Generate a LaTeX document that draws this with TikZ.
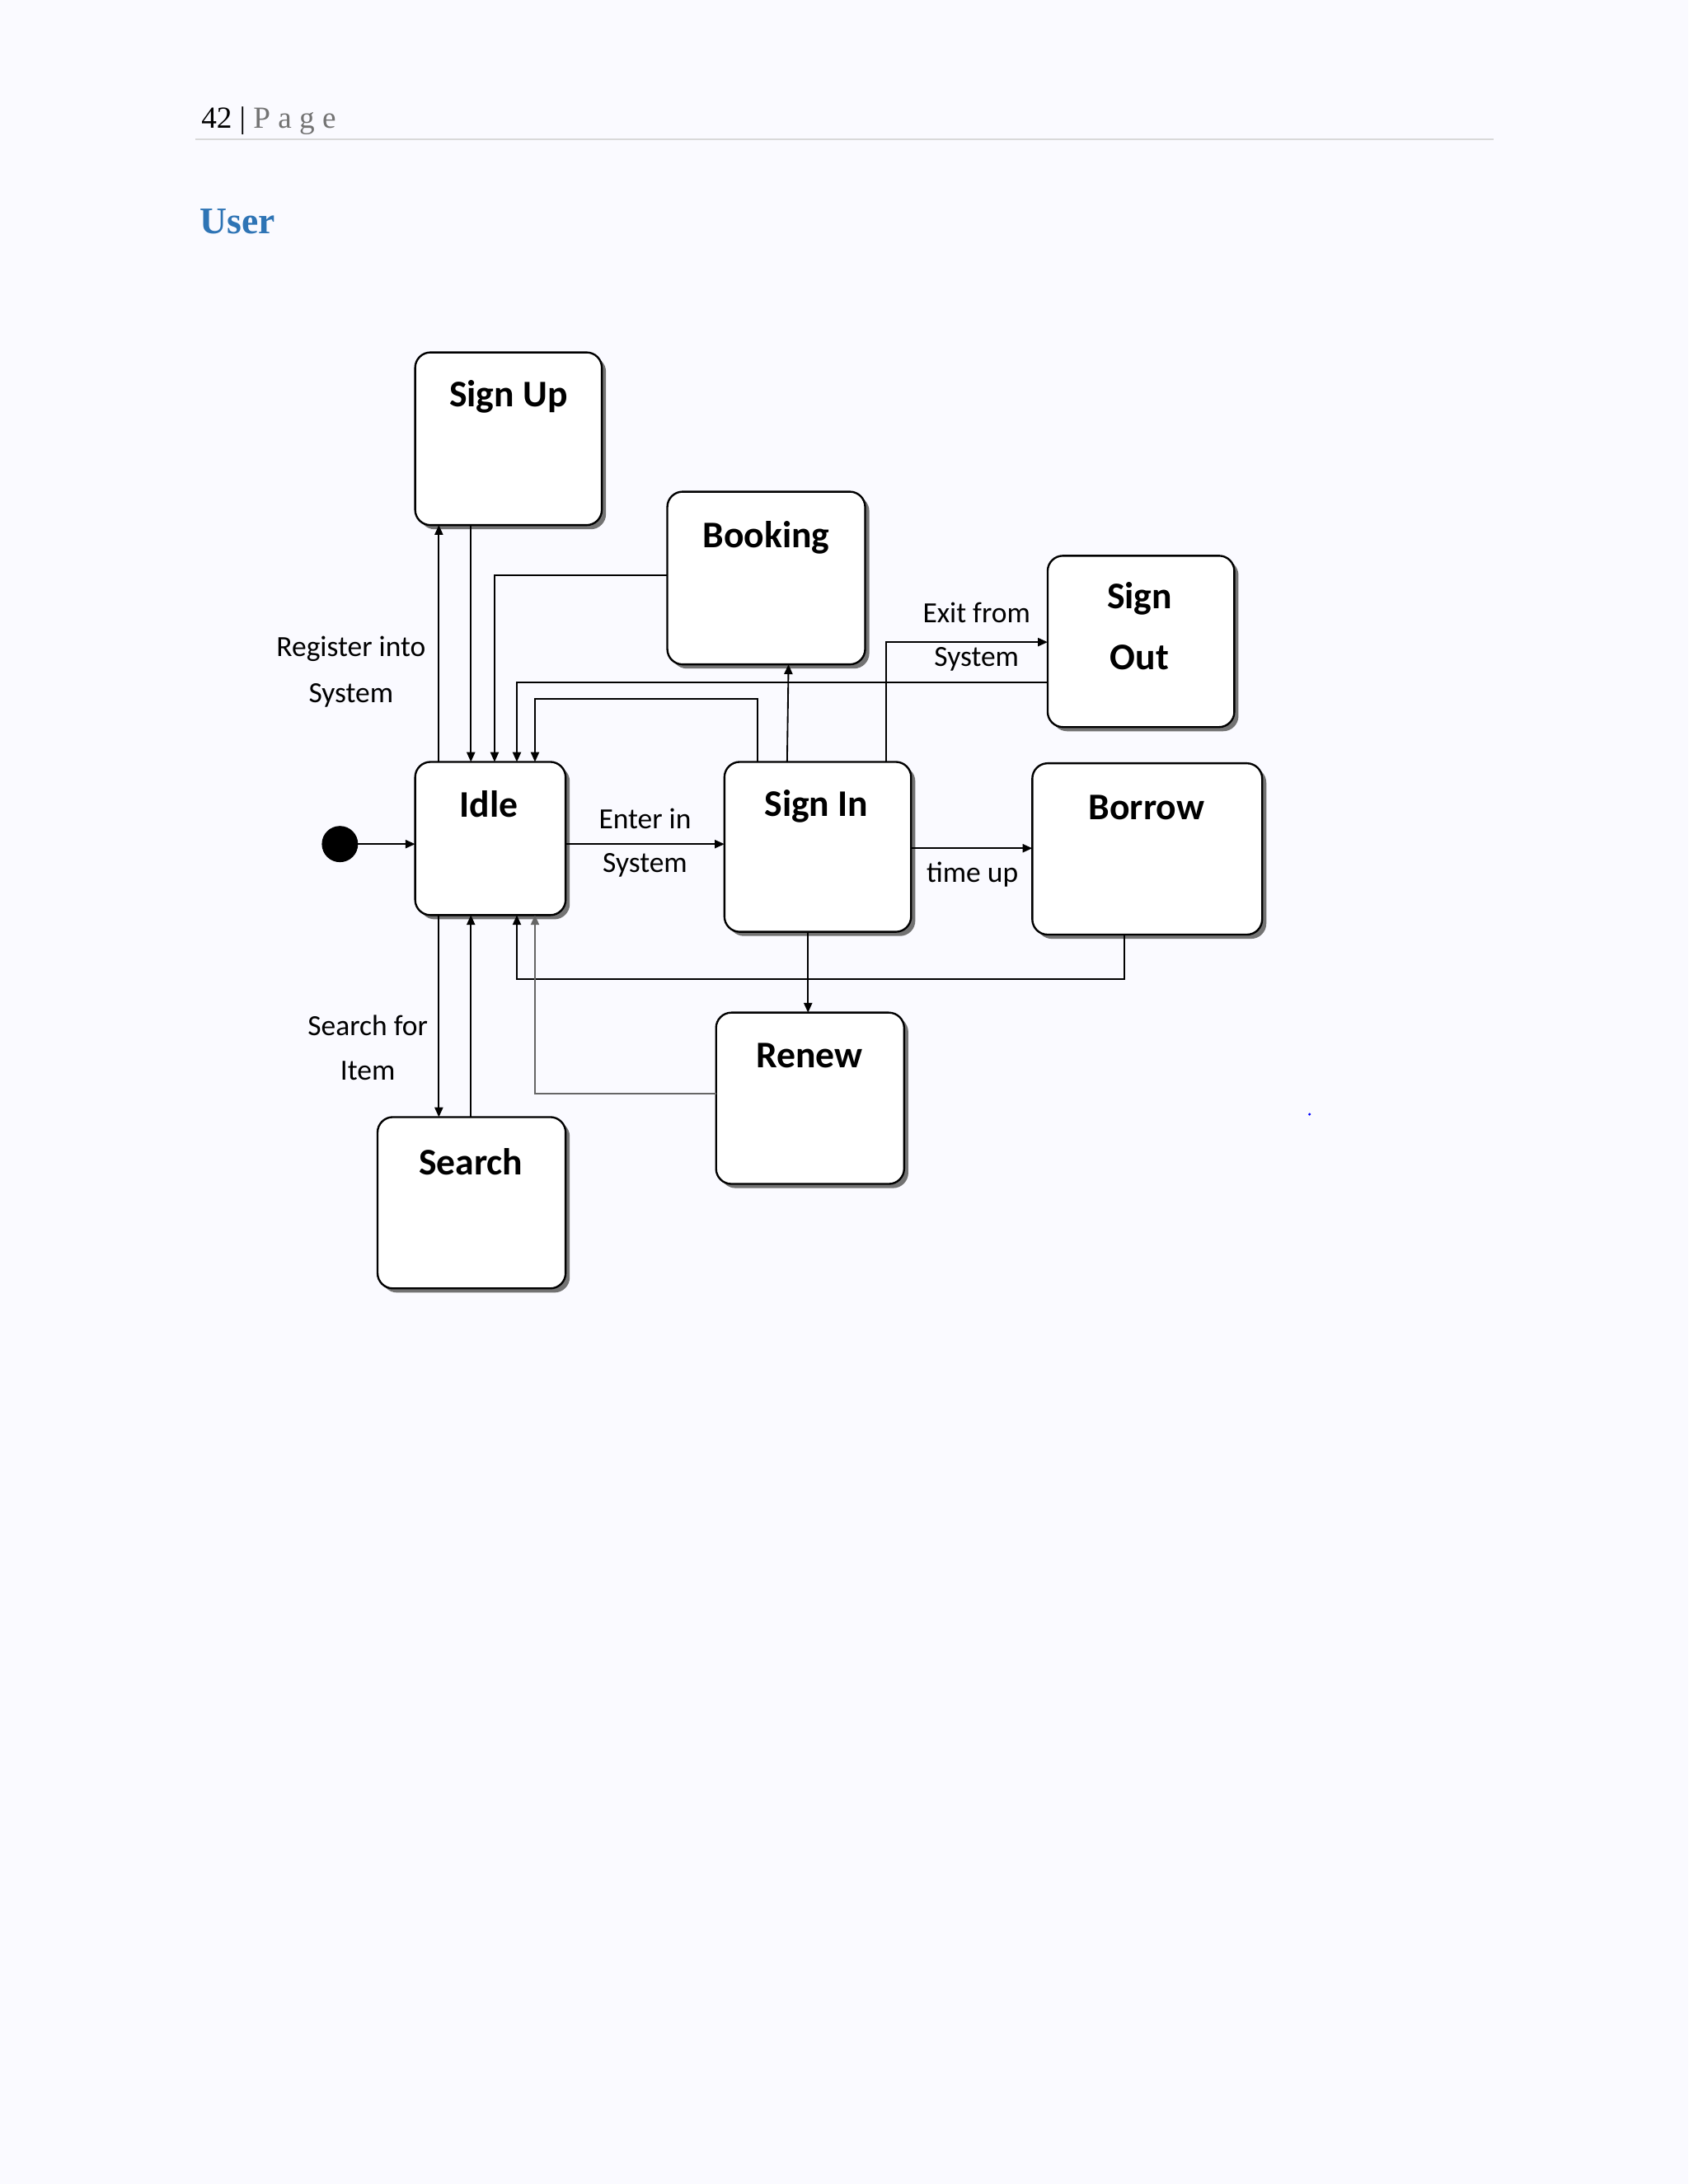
\documentclass[tikz,border=0pt]{standalone}
\usepackage{fontspec}
\setmainfont{Carlito}
\newfontfamily\serifx{Liberation Serif}
\usetikzlibrary{arrows.meta}
\begin{document}
\begin{tikzpicture}[x=1pt,y=-1pt,
  st/.style={draw=black,line width=1.4pt,rounded corners=11pt,fill=white},
  shd/.style={fill=black!55,rounded corners=11pt},
  ttl/.style={font=\fontsize{27}{30}\selectfont\bfseries},
  lbl/.style={font=\fontsize{21}{24}\selectfont},
  ar/.style={line width=1.1pt,-{Triangle[length=7pt,width=6pt]}},
  ln/.style={line width=1.1pt}]
\useasboundingbox (0,0) rectangle (1212,1568);
\fill[white!98!blue] (0,0) rectangle (1212,1568);
\node[anchor=base west,font=\serifx\fontsize{22}{24}\selectfont] (hdr) at (141,92) {42 | \textcolor{black!55}{P a g e}};
\draw[black!15,line width=0.8pt] (140,100) -- (1072,100);
\node[anchor=base west,font=\serifx\fontsize{27}{30}\selectfont\bfseries,text={rgb,255:red,46;green,116;blue,181}] (usr) at (140,168) {User};
% boxes
\newcommand\bx[5]{%
 \fill[shd] (#2+3,#3+3) rectangle (#4+3,#5+3);
 \draw[st] (#2,#3) rectangle (#4,#5);
 \coordinate (#1-nw) at (#2,#3); \coordinate (#1-se) at (#4,#5);}
\bx{su}{298}{253}{432}{377}
\bx{bk}{479}{353}{621}{477}
\bx{so}{752}{399}{886}{522}
\bx{id}{298}{547}{406}{657}
\bx{si}{520}{547}{654}{669}
\bx{bo}{741}{548}{906}{671}
\bx{rn}{514}{727}{649}{850}
\bx{se}{271}{802}{406}{925}
\node[ttl] (tsu) at (365,285) {Sign Up};
\node[ttl] (tbk) at (550,386) {Booking};
\node[ttl] (tso1) at (818,430) {Sign};
\node[ttl] (tso2) at (818,472) {Out};
\node[ttl] (tid) at (351,577) {Idle};
\node[ttl] (tsi) at (586,579) {Sign In};
\node[ttl] (tbo) at (823,580) {Borrow};
\node[ttl] (trn) at (581,758) {Renew};
\node[ttl] (tse) at (338,834) {Search};
% initial
\fill (244,606) circle (13);
\coordinate (init) at (257,606);
\draw[ar] (init) -- (298,606);
% connectors
\draw[ar] (315,547) -- (315,377);
\draw[ar] (338,377) -- (338,547);
\draw[ar] (479,413) -- (355,413) -- (355,547);
\draw[ar] (752,490) -- (371,490) -- (371,547);
\draw[ar] (544,547) -- (544,502) -- (384,502) -- (384,547);
\draw[ar] (565,547) -- (566,477);
\draw[ar] (636,547) -- (636,461) -- (752,461);
\draw[ar] (406,606) -- (520,606);
\draw[ar] (654,609) -- (741,609);
\draw[ar] (580,669) -- (580,727);
\draw[ar] (807,671) -- (807,703) -- (371,703) -- (371,657);
\draw[ar,black!60] (514,785) -- (384,785) -- (384,657);
\draw[ar] (315,657) -- (315,802);
\draw[ar] (338,802) -- (338,657);
% labels
\node[lbl] (l1) at (252,466) {Register into};
\node[lbl] (l2) at (252,499) {System};
\node[lbl] (l3) at (264,736) {Search for};
\node[lbl] (l4) at (264,769) {Item};
\node[lbl] (l5) at (463,588) {Enter in};
\node[lbl] (l6) at (463,621) {System};
\node[lbl] (l7) at (701,440) {Exit from};
\node[lbl] (l8) at (701,473) {System};
\node[lbl] (l9) at (698,628) {time up};
\fill[blue] (940,800) circle (1);
\end{tikzpicture}
\end{document}
